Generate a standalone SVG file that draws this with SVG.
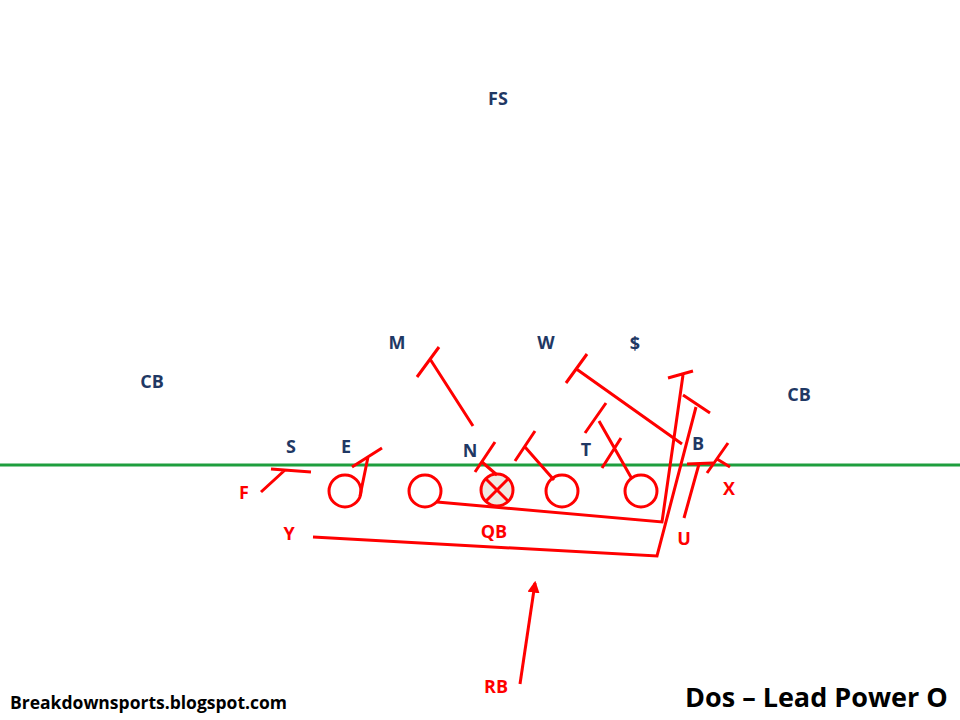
<svg xmlns="http://www.w3.org/2000/svg" width="960" height="720" viewBox="0 0 960 720">
<defs>
<style>
.d{font-family:"Open Sans","Liberation Sans",sans-serif;font-weight:bold;font-size:18px;fill:#1F3864;text-anchor:middle}
.o{font-family:"Open Sans","Liberation Sans",sans-serif;font-weight:bold;font-size:18px;fill:#FF0000;text-anchor:middle}
.c{fill:#FFFFFF;stroke:#FF0000;stroke-width:3}
.blk{fill:none;stroke:#FF0000;stroke-width:3;stroke-linecap:butt;stroke-linejoin:miter}
</style>
<marker id="arr" viewBox="0 0 10 10" refX="8" refY="5" markerWidth="4" markerHeight="4" orient="auto">
<path d="M0,0 L10,5 L0,10 z" fill="#FF0000"/>
</marker>
</defs>
<rect width="960" height="720" fill="#FFFFFF"/>
<line x1="0" y1="465" x2="960" y2="465" stroke="#1E9E3E" stroke-width="3"/>

<g id="defense">
<g id="FS"><text class="d" x="498" y="105">FS</text></g>
<g id="M"><text class="d" x="397" y="349">M</text></g>
<g id="W"><text class="d" x="546" y="349">W</text></g>
<g id="Dollar"><text class="d" x="635" y="350">$</text></g>
<g id="CB-left"><text class="d" x="152" y="388">CB</text></g>
<g id="CB-right"><text class="d" x="799" y="401">CB</text></g>
<g id="S"><text class="d" x="291" y="453">S</text></g>
<g id="E"><text class="d" x="346" y="453">E</text></g>
<g id="N"><text class="d" x="470" y="457">N</text></g>
<g id="T"><text class="d" x="586" y="456">T</text></g>
<g id="B"><text class="d" x="698" y="450">B</text></g>
</g>

<g id="offense">
<g id="F"><text class="o" x="244" y="499">F</text></g>
<g id="X"><text class="o" x="729" y="495">X</text></g>
<g id="Y"><text class="o" x="289" y="540">Y</text></g>
<g id="QB"><text class="o" x="494" y="538">QB</text></g>
<g id="U"><text class="o" x="684" y="545">U</text></g>
<g id="RB"><text class="o" x="496" y="693">RB</text></g>
<g id="LT"><circle class="c" cx="345" cy="491" r="16"/></g>
<g id="LG"><circle class="c" cx="425" cy="491" r="16"/></g>
<g id="C"><circle cx="497" cy="490" r="16" fill="#EFE9E1" stroke="#FF0000" stroke-width="3"/>
<line x1="486" y1="479" x2="508" y2="501" stroke="#FF0000" stroke-width="3"/>
<line x1="508" y1="479" x2="486" y2="501" stroke="#FF0000" stroke-width="3"/></g>
<g id="RG"><circle class="c" cx="562" cy="491" r="16"/></g>
<g id="RT"><circle class="c" cx="641" cy="491" r="16"/></g>
</g>

<g id="connectors">
<path class="blk" d="M261,492 L285,470 M271,469 L311,472"/>
<path class="blk" d="M360,496 L368,457 M352,467 L382,448"/>
<path class="blk" d="M473,426 L430,359 M417,377 L439,347"/>
<path class="blk" d="M482,462 L497,475 M475,472 L495,442"/>
<path class="blk" d="M554,480 L525,447 M515,461 L535,431"/>
<path class="blk" d="M632,479 L599,421 M602,468 L621,438 M585,433 L606,403"/>
<path class="blk" d="M682,444 L575,368 M566,383 L587,354"/>
<path class="blk" d="M437,502 L662,522 L683,375 M668,378 L693,371"/>
<path class="blk" d="M313,537 L657,556 L696,407 M683,395 L710,413"/>
<path class="blk" d="M684,518 L699,464 M687,464 L713,463"/>
<path class="blk" d="M730,467 L717,459 M707,473 L728,443"/>
<line x1="520" y1="684" x2="535" y2="583" stroke="#FF0000" stroke-width="3" marker-end="url(#arr)"/>
</g>

<text x="685" y="707" font-family="Open Sans,Liberation Sans,sans-serif" font-weight="bold" font-size="27" fill="#000000">Dos – Lead Power O</text>
<text x="10" y="709" font-family="Open Sans,Liberation Sans,sans-serif" font-weight="bold" font-size="17.5" fill="#000000">Breakdownsports.blogspot.com</text>
</svg>
